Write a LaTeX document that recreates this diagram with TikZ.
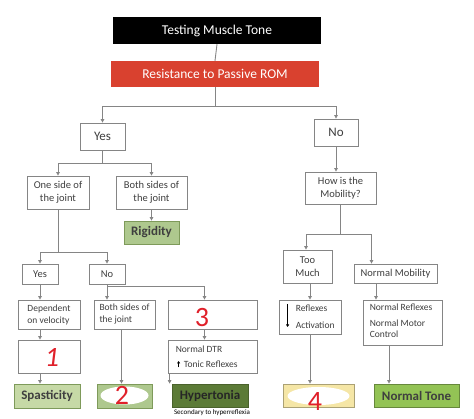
\documentclass[tikz,border=0pt]{standalone}
\usepackage{fontspec}
\setmainfont{Carlito}
\usetikzlibrary{arrows.meta,positioning,calc}
\definecolor{mtgrey}{HTML}{858585}
\definecolor{mttext}{HTML}{3F3F3F}
\definecolor{mtred}{HTML}{D9412F}
\definecolor{mtpen}{HTML}{E0202A}
\definecolor{mtrigid}{HTML}{AEC88E}
\definecolor{mtspast}{HTML}{C6D9A6}
\definecolor{mthyper}{HTML}{5C7B37}
\definecolor{mttone}{HTML}{93C355}
\definecolor{mtsand}{HTML}{F5E6A6}
\definecolor{mtedge}{HTML}{7E9A5A}

\begin{document}
\begin{tikzpicture}[x=1pt,y=-1pt,
  box/.style={draw=mtgrey,line width=0.8pt,fill=white,text=mttext,align=center,inner sep=0pt,
    font=\fontsize{10.5}{12.5}\selectfont},
  small/.style={box,font=\fontsize{9.5}{12}\selectfont},
  banner/.style={draw=none,text=white,inner sep=0pt,font=\fontsize{13.5}{15}\selectfont},
  result/.style={draw=mtedge,line width=0.8pt,text=mttext,inner sep=0pt,font=\bfseries\fontsize{13}{15}\selectfont},
  inner/.style={anchor=west,text=mttext,font=\fontsize{9.5}{11}\selectfont,inner sep=0pt},
  link/.style={mtgrey,line width=0.9pt},
  arr/.style={link,-{Triangle[length=3.5pt,width=3.5pt]}},
  pen/.style={text=mtpen,font=\fontsize{28}{28}\selectfont,inner sep=0pt}]
\useasboundingbox (0,0) rectangle (474,419);

% top of the tree
\node[banner,fill=black,minimum width=208pt,minimum height=27pt] (title) at (217,30.5) {Testing Muscle Tone};
\node[banner,fill=mtred,minimum width=208pt,minimum height=26pt] (rom) at (215,74) {Resistance to Passive ROM};
\node[box,font=\fontsize{13}{15}\selectfont,minimum width=45pt,minimum height=27pt] (yes) at (102.5,136.5) {Yes};
\node[box,font=\fontsize{13}{15}\selectfont,minimum width=44pt,minimum height=27pt] (no) at (336,132.5) {No};

% yes branch
\node[box,minimum width=62pt,minimum height=33pt] (oneside) at (58,192.5) {One side of\\the joint};
\node[box,minimum width=71pt,minimum height=33pt] (bothside) at (151.5,192.5) {Both sides of\\the joint};
\node[result,fill=mtrigid,minimum width=55pt,minimum height=23pt] (rigid) at (151.5,232.5) {Rigidity};
\node[box,minimum width=36pt,minimum height=20pt] (yes2) at (40,274) {Yes};
\node[box,minimum width=36pt,minimum height=20pt] (no2) at (107,274) {No};
\node[small,minimum width=62pt,minimum height=29pt,align=left] (dep) at (49,314.5) {Dependent\\on velocity};
\node[small,minimum width=61pt,minimum height=29pt,align=left] (both2) at (124.5,314.5) {Both sides of\\the joint};
\node[box,minimum width=89pt,minimum height=29pt] (three) at (212.5,314.5) {};
\node[box,minimum width=62pt,minimum height=33pt] (one) at (49,356.5) {};
\node[box,minimum width=89pt,minimum height=33pt] (dtr) at (212.5,356.5) {};
\node[result,fill=mtspast,minimum width=66pt,minimum height=24pt] (spast) at (47,396) {Spasticity};
\node[result,fill=mtrigid,minimum width=55pt,minimum height=24pt] (two) at (124.5,396) {};
\node[result,fill=mthyper,draw=mthyper!80!black,minimum width=76pt,minimum height=23pt,text=black!85,font=\bfseries\fontsize{13}{15}\selectfont] (hyper) at (210,395.5) {Hypertonia};
\node[text=black,font=\fontsize{7}{8}\selectfont,inner sep=0pt] (second) at (212,413) {Secondary to hyperreflexia};

% no branch
\node[box,minimum width=71pt,minimum height=32pt] (how) at (340.5,188) {How is the\\Mobility?};
\node[box,minimum width=49pt,minimum height=33pt] (toomuch) at (307.5,266.5) {Too\\Much};
\node[box,minimum width=83pt,minimum height=19pt] (normob) at (395.5,273.5) {Normal Mobility};
\node[small,minimum width=62pt,minimum height=34pt] (refl) at (310,317) {};
\node[small,minimum width=79pt,minimum height=45pt] (nrefl) at (402.5,322.5) {};
\node[result,fill=mtsand,draw=mtsand!70!black,minimum width=71pt,minimum height=23pt] (four) at (318.5,395.5) {};
\node[result,fill=mttone,draw=mttone!70!black,minimum width=85pt,minimum height=23pt] (ntone) at (416.5,395.5) {Normal Tone};

% texts inside the boxes
\node[inner] (dtrtop) at ($(dtr.west)+(8,-7)$) {Normal DTR};
\node[inner] (dtrbot) at ($(dtr.west)+(16,8)$) {Tonic Reflexes};
\draw[black,line width=0.8pt,-{Triangle[length=2.5pt,width=3pt]}] ($(dtrbot.west)+(-5,3)$) -- ($(dtrbot.west)+(-5,-3.5)$);
\node[inner] (refltop) at ($(refl.west)+(17,-9)$) {Reflexes};
\node[inner] (reflbot) at ($(refl.west)+(17,8)$) {Activation};
\draw[black,line width=0.8pt,-{Triangle[length=2.5pt,width=3pt]}] ($(refltop.west)+(-8,-4)$) -- ($(reflbot.west)+(-8,2)$);
\node[inner,anchor=north west,align=left,font=\fontsize{9.5}{10.5}\selectfont] (nrefltxt) at ($(nrefl.north west)+(7,4)$) {Normal Reflexes\\[6pt]Normal Motor\\Control};

% pen marks
\fill[white] (124.5,395.5) ellipse (24pt and 9pt);
\fill[white] (318.5,396) ellipse (31pt and 9pt);
\node[pen] (penone) at (52,357) {\itshape 1};
\node[pen] (pentwo) at (122,395) {2};
\node[pen] (penthree) at (202,318) {3};
\node[pen] (penfour) at (315,402) {4};

% connectors
\coordinate (j1) at (215,106);
\coordinate (j2) at (102.5,163);
\coordinate (j3) at (58,252);
\coordinate (j4) at (107,286);
\coordinate (j5) at (340.5,234);
\draw[link] (title.south) -- (rom.north);
\draw[link] (rom.south) -- (j1);
\draw[arr] (j1) -| (yes.north);
\draw[arr] (j1) -| (no.north);
\draw[link] (yes.south) -- (j2);
\draw[arr] (j2) -| (oneside.north);
\draw[arr] (j2) -| (bothside.north);
\draw[arr] (bothside.south) -- (rigid.north);
\draw[link] (oneside.south) -- (j3);
\draw[arr] (j3) -| (yes2.north);
\draw[arr] (j3) -| (no2.north);
\draw[arr] (yes2.south) -- (yes2.south |- dep.north);
\draw[link] (no2.south) -- (j4);
\draw[arr] (j4) -- (j4 |- both2.north);
\draw[arr] (j4) -| ([xshift=-8pt]three.north);
\draw[arr] (yes2.south |- dep.south) -- (yes2.south |- one.north);
\draw[arr] (yes2.south |- one.south) -- (yes2.south |- spast.north);
\draw[arr] ([xshift=-3pt]both2.south) -- ([xshift=-3pt]two.north);
\draw[arr] ([xshift=-8pt]three.south) -- ([xshift=-8pt]dtr.north);
\draw[arr] ([xshift=2pt]dtr.south west) -- ([xshift=-2pt]hyper.north west);
\draw[arr] (no.south) -- (no.south |- how.north);
\draw[link] (how.south) -- (j5);
\draw[arr] (j5) -| ([xshift=-1.5pt]toomuch.north);
\draw[arr] (j5) -| ([xshift=-24pt]normob.north);
\draw[arr] ([xshift=2.5pt]toomuch.south) -- (refl.north);
\draw[arr] ([xshift=-19.5pt]normob.south) -- ([xshift=-26.5pt]nrefl.north);
\draw[arr] (refl.south) -- (refl.south |- four.north);
\draw[arr] ([xshift=-13.5pt]nrefl.south) -- ([xshift=-27.5pt]ntone.north);
\end{tikzpicture}
\end{document}
